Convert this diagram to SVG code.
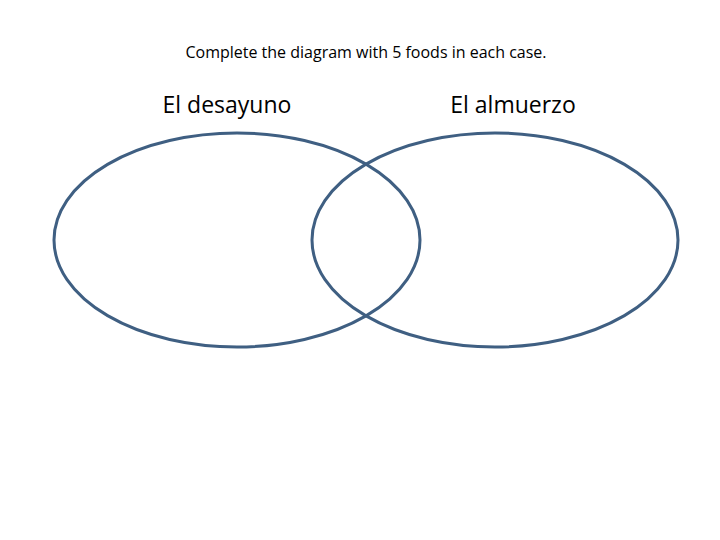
<svg xmlns="http://www.w3.org/2000/svg" width="720" height="540" viewBox="0 0 720 540">
<style>
.e{fill:none;stroke:#3f5f82;stroke-width:3}
text{font-family:"Open Sans","Liberation Sans",sans-serif;fill:#000}
</style>
<rect width="720" height="540" fill="#fff"/>
<text x="366" y="58" font-size="16" text-anchor="middle">Complete the diagram with 5 foods in each case.</text>
<g id="left"><ellipse class="e" cx="237" cy="240" rx="183" ry="107"/><text x="227" y="113" font-size="23" text-anchor="middle">El desayuno</text></g>
<g id="right"><ellipse class="e" cx="495" cy="240" rx="183" ry="107"/><text x="513" y="113" font-size="23" text-anchor="middle">El almuerzo</text></g>
</svg>
